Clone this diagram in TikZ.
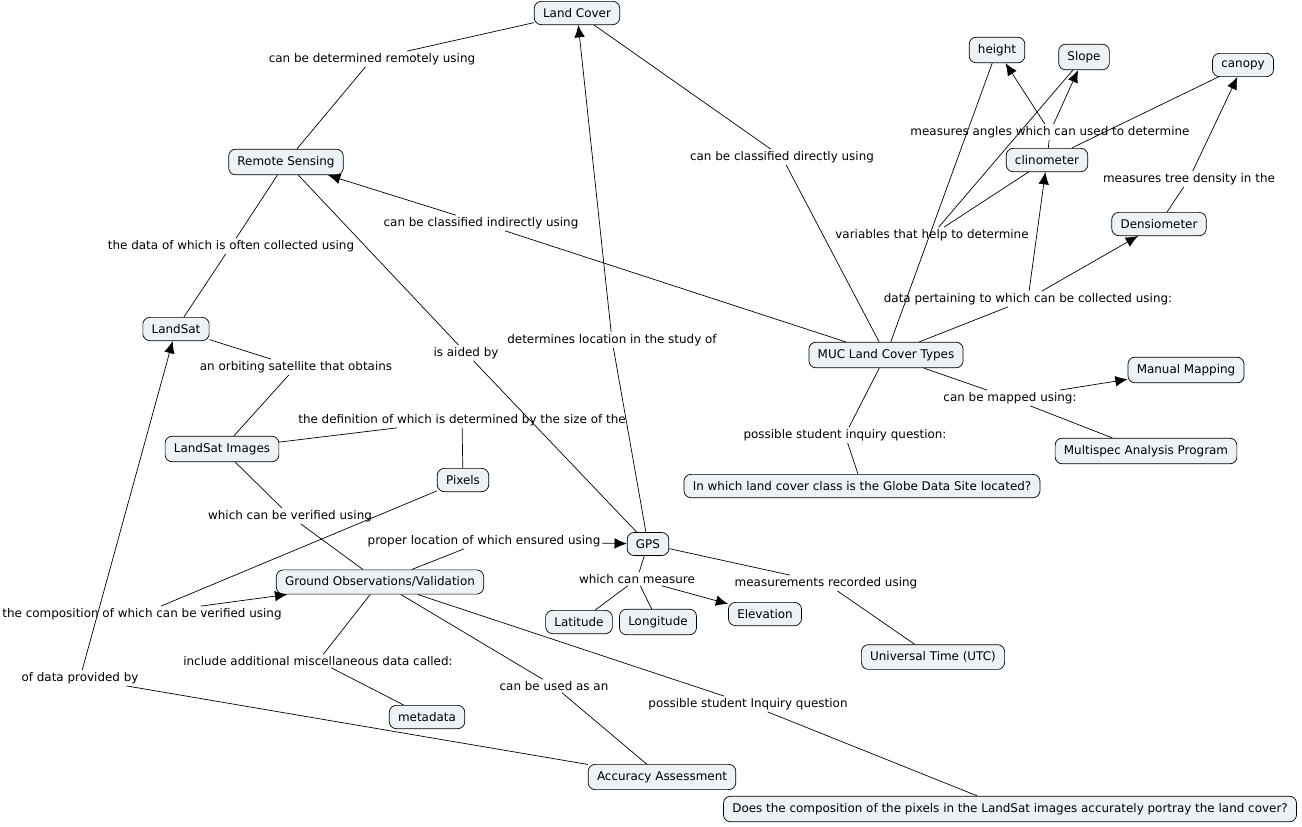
\documentclass[tikz,border=0pt]{standalone}
\usepackage{fontspec}
\setmainfont{DejaVu Sans}
\usetikzlibrary{positioning}
\definecolor{conceptfill}{RGB}{236,242,245}
\tikzstyle{concept}=[rectangle, rounded corners=4pt, draw=black, fill=conceptfill,
  font=\fontsize{6.8}{8}\selectfont, inner xsep=5pt, inner ysep=4pt]
\tikzstyle{phrase}=[font=\fontsize{6.8}{8}\selectfont, inner sep=1pt]
\tikzstyle{link}=[thin, draw=black]
\tikzstyle{arr}=[-{Latex[length=7pt,width=6pt]}, thin, draw=black]
\usetikzlibrary{arrows.meta}

\begin{document}
\begin{tikzpicture}[x=0.02cm, y=-0.02cm]
\useasboundingbox (0,0) rectangle (1302,826);

% concepts
\node[concept] (landcover) at (577,13) {Land Cover};
\node[concept] (remote) at (286,162) {Remote Sensing};
\node[concept] (landsat) at (176,329) {LandSat};
\node[concept] (lsimages) at (222,449) {LandSat Images};
\node[concept] (pixels) at (463,480) {Pixels};
\node[concept] (gps) at (648,544) {GPS};
\node[concept] (ground) at (380,582) {Ground Observations/Validation};
\node[concept] (latitude) at (579,622) {Latitude};
\node[concept] (longitude) at (658,622) {Longitude};
\node[concept] (elevation) at (765,614) {Elevation};
\node[concept] (utc) at (933,657) {Universal Time (UTC)};
\node[concept] (metadata) at (427,717) {metadata};
\node[concept] (accuracy) at (662,777) {Accuracy Assessment};
\node[concept] (question2) at (1010,809) {Does the composition of the pixels in the LandSat images accurately portray the land cover?};
\node[concept] (muc) at (886,355) {MUC Land Cover Types};
\node[concept] (manual) at (1186,370) {Manual Mapping};
\node[concept] (multispec) at (1146,451) {Multispec Analysis Program};
\node[concept] (question1) at (862,486) {In which land cover class is the Globe Data Site located?};
\node[concept] (height) at (997,50) {height};
\node[concept] (slope) at (1084,57) {Slope};
\node[concept] (canopy) at (1243,65) {canopy};
\node[concept] (clinometer) at (1047,160) {clinometer};
\node[concept] (densiometer) at (1159,224) {Densiometer};

% linking phrases
\node[phrase] (determined) at (372,59) {can be determined remotely using};
\node[phrase] (directly) at (782,157) {can be classified directly using};
\node[phrase] (indirectly) at (481,223) {can be classified indirectly using};
\node[phrase] (collected) at (231,246) {the data of which is often collected using};
\node[phrase] (orbiting) at (296,367) {an orbiting satellite that obtains};
\node[phrase] (aided) at (466,353) {is aided by};
\node[phrase] (location) at (612,340) {determines location in the study of};
\node[phrase] (definition) at (462,420) {the definition of which is determined by the size of the};
\node[phrase] (verified) at (290,516) {which can be verified using};
\node[phrase] (proper) at (484,541) {proper location of which ensured using};
\node[phrase] (composition) at (142,614) {the composition of which can be verified using};
\node[phrase] (measure) at (637,579) {which can measure};
\node[phrase] (recorded) at (826,583) {measurements recorded using};
\node[phrase] (misc) at (318,661) {include additional miscellaneous data called:};
\node[phrase] (usedas) at (554,686) {can be used as an};
\node[phrase] (inquiry2) at (748,704) {possible student Inquiry question};
\node[phrase] (provided) at (80,678) {of data provided by};
\node[phrase] (variables) at (932,235) {variables that help to determine};
\node[phrase] (angles) at (1050,132) {measures angles which can used to determine};
\node[phrase] (density) at (1189,179) {measures tree density in the};
\node[phrase] (pertaining) at (1028,299) {data pertaining to which can be collected using:};
\node[phrase] (mapped) at (1010,398) {can be mapped using:};
\node[phrase] (inquiry1) at (845,435) {possible student inquiry question:};

% connections
\draw[link] (landcover) -- (determined);
\draw[link] (determined) -- (remote);
\draw[link] (landcover) -- (directly);
\draw[link] (directly) -- (muc);
\draw[link] (muc) -- (indirectly);
\draw[arr] (indirectly) -- (remote);
\draw[link] (remote) -- (collected);
\draw[link] (collected) -- (landsat);
\draw[link] (landsat) -- (orbiting);
\draw[link] (orbiting) -- (lsimages);
\draw[link] (remote) -- (aided);
\draw[link] (aided) -- (gps);
\draw[link] (gps) -- (location);
\draw[arr] (location) -- (landcover);
\draw[link] (lsimages) -- (definition);
\draw[link] (definition) -- (pixels);
\draw[link] (lsimages) -- (verified);
\draw[link] (verified) -- (ground);
\draw[link] (ground) -- (proper);
\draw[arr] (proper) -- (gps);
\draw[link] (pixels) -- (composition);
\draw[arr] (composition) -- (ground);
\draw[link] (gps) -- (measure);
\draw[link] (measure) -- (latitude);
\draw[link] (measure) -- (longitude);
\draw[arr] (measure) -- (elevation);
\draw[link] (gps) -- (recorded);
\draw[link] (recorded) -- (utc);
\draw[link] (ground) -- (misc);
\draw[link] (misc) -- (metadata);
\draw[link] (ground) -- (usedas);
\draw[link] (usedas) -- (accuracy);
\draw[link] (ground) -- (inquiry2);
\draw[link] (inquiry2) -- (question2);
\draw[link] (accuracy) -- (provided);
\draw[arr] (provided) -- (landsat);
\draw[link] (muc) -- (height);
\draw[link] (variables) -- (slope);
\draw[link] (variables) -- (clinometer);
\draw[link] (clinometer) -- (angles);
\draw[arr] (angles) -- (height);
\draw[arr] (angles) -- (slope);
\draw[link] (clinometer) -- (canopy);
\draw[link] (densiometer) -- (density);
\draw[arr] (density) -- (canopy);
\draw[link] (muc) -- (pertaining);
\draw[arr] (pertaining) -- (clinometer);
\draw[arr] (pertaining) -- (densiometer);
\draw[link] (muc) -- (mapped);
\draw[arr] (mapped) -- (manual);
\draw[link] (mapped) -- (multispec);
\draw[link] (muc) -- (inquiry1);
\draw[link] (inquiry1) -- (question1);
\end{tikzpicture}
\end{document}
